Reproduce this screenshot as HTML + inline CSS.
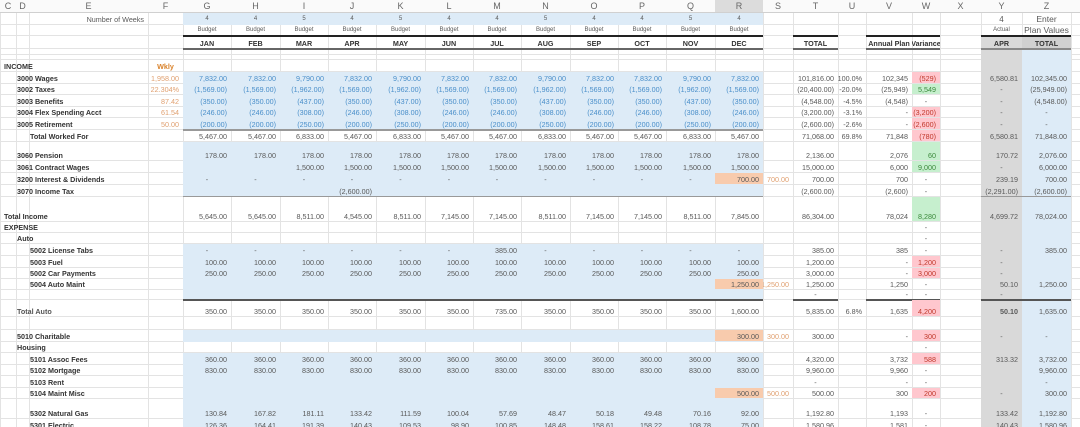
<!DOCTYPE html>
<html><head><meta charset="utf-8">
<style>
html,body{margin:0;padding:0;background:#fff;overflow:hidden;}
#sheet{position:relative;width:1080px;height:427px;overflow:hidden;font-family:"Liberation Sans",Arial,sans-serif;font-size:7.2px;color:#595959;}
#sheet div{position:absolute;box-sizing:border-box;white-space:nowrap;}
.t{display:flex;align-items:flex-end;padding:0 4px 1px 4px;line-height:9px;overflow:hidden;}
</style></head>
<body>
<div id="sheet"></div>
<script>
// ---- data ----
const colLetters=["C","D","E","F","G","H","I","J","K","L","M","N","O","P","Q","R","S","T","U","V","W","X","Y","Z",""];
const months=["JAN","FEB","MAR","APR","MAY","JUN","JUL","AUG","SEP","OCT","NOV","DEC"];
const weeks=[4,4,5,4,5,4,4,5,4,4,5,4];
const wages=["7,832.00","7,832.00","9,790.00","7,832.00","9,790.00","7,832.00","7,832.00","9,790.00","7,832.00","7,832.00","9,790.00","7,832.00"];
const taxes=["(1,569.00)","(1,569.00)","(1,962.00)","(1,569.00)","(1,962.00)","(1,569.00)","(1,569.00)","(1,962.00)","(1,569.00)","(1,569.00)","(1,962.00)","(1,569.00)"];
const benefits=["(350.00)","(350.00)","(437.00)","(350.00)","(437.00)","(350.00)","(350.00)","(437.00)","(350.00)","(350.00)","(437.00)","(350.00)"];
const flex=["(246.00)","(246.00)","(308.00)","(246.00)","(308.00)","(246.00)","(246.00)","(308.00)","(246.00)","(246.00)","(308.00)","(246.00)"];
const retire=["(200.00)","(200.00)","(250.00)","(200.00)","(250.00)","(200.00)","(200.00)","(250.00)","(200.00)","(200.00)","(250.00)","(200.00)"];
const worked=["5,467.00","5,467.00","6,833.00","5,467.00","6,833.00","5,467.00","5,467.00","6,833.00","5,467.00","5,467.00","6,833.00","5,467.00"];
const pension=["178.00","178.00","178.00","178.00","178.00","178.00","178.00","178.00","178.00","178.00","178.00","178.00"];
const contract=["","","1,500.00","1,500.00","1,500.00","1,500.00","1,500.00","1,500.00","1,500.00","1,500.00","1,500.00","1,500.00"];
const interest=["-","-","-","-","-","-","-","-","-","-","-","700.00"];
const incTax=["","","","(2,600.00)","","","","","","","",""];
const totIncome=["5,645.00","5,645.00","8,511.00","4,545.00","8,511.00","7,145.00","7,145.00","8,511.00","7,145.00","7,145.00","8,511.00","7,845.00"];
const license=["-","-","-","-","-","-","385.00","-","-","-","-","-"];
const fuel=["100.00","100.00","100.00","100.00","100.00","100.00","100.00","100.00","100.00","100.00","100.00","100.00"];
const car=["250.00","250.00","250.00","250.00","250.00","250.00","250.00","250.00","250.00","250.00","250.00","250.00"];
const autoMaint=["","","","","","","","","","","","1,250.00"];
const totAuto=["350.00","350.00","350.00","350.00","350.00","350.00","735.00","350.00","350.00","350.00","350.00","1,600.00"];
const charit=["","","","","","","","","","","","300.00"];
const assoc=["360.00","360.00","360.00","360.00","360.00","360.00","360.00","360.00","360.00","360.00","360.00","360.00"];
const mortgage=["830.00","830.00","830.00","830.00","830.00","830.00","830.00","830.00","830.00","830.00","830.00","830.00"];
const maint=["","","","","","","","","","","","500.00"];
const gas=["130.84","167.82","181.11","133.42","111.59","100.04","57.69","48.47","50.18","49.48","70.16","92.00"];
const elec=["126.36","164.41","191.39","140.43","109.53","98.90","100.85","148.48","158.61","158.22","108.78","75.00"];

// ---- geometry ----
const colX=[0,16,29,148,183];
for(let i=1;i<=12;i++)colX.push(Math.round(183+48.33*i));
colX.push(793,838,866,912,940,981,1022,1071,1080);
const C=l=>colLetters.indexOf(l);
const cx=l=>colX[C(l)], cw=l=>colX[C(l)+1]-colX[C(l)];

const R={hdr:[0,13],wk:[13,25],bud:[25,36],mon:[36,49],b1:[49,55],b2:[55,60],inc:[60,72],wag:[72,84],tax:[84,95],ben:[95,107],flx:[107,118],ret:[118,130],tw:[130,142],pen:[142,161],con:[161,173],int:[173,185],itx:[185,197],ti:[197,222],exp:[222,233],aut:[233,244],lic:[244,256],fue:[256,268],car:[268,279],am:[279,290],b3:[290,300],ta:[300,317],b4:[317,330],cha:[330,342],hou:[342,353],aso:[353,365],mor:[365,376],ren:[376,388],mm:[388,399],gas:[399,419],ele:[419,427]};

const S=document.getElementById('sheet');
function box(x,y,w,h,bg,name){
  const d=document.createElement('div');
  d.style.cssText=`left:${x}px;top:${y}px;width:${w}px;height:${h}px;background:${bg}`;
  
  
  S.appendChild(d);return d;
}
function txt(col,row,s,opt){
  opt=opt||{};
  const r=R[row];const x=opt.x!=null?opt.x:cx(col);const w=opt.w!=null?opt.w:cw(col);
  const d=document.createElement('div');
  d.className='t';
  d.style.left=x+'px';d.style.top=r[0]+'px';d.style.width=w+'px';d.style.height=(r[1]-r[0])+'px';
  d.style.justifyContent=opt.al||'flex-end';
  if(row=='ele'){d.style.alignItems='flex-start';d.style.paddingTop='2px';}
  if(opt.c)d.style.color=opt.c;
  if(opt.b)d.style.fontWeight='bold';
  if(opt.fs)d.style.fontSize=opt.fs+'px';
  d.textContent=s;
  
  
  S.appendChild(d);return d;
}
const BLUE='#ddebf7',ORG='#f8cbad',GREY='#d9d9d9',RED='#ffc7ce',GRN='#c6efce';
const TB='#4a8fca',TO='#e0a070',TR='#c0392b',TG='#3c8a3c';
const gx=cx('G'),gw=cx('S')-cx('G');

Object.values(R).forEach(r=>{if(r[1]<427)box(0,r[1]-1,1080,1,'#e3e3e3','row-gridline');});
colX.forEach(x=>{if(x<1080)box(x,0,1,427,'#e3e3e3','col-gridline');});

['wk','wag','tax','ben','flx','ret','pen','con','int','itx','lic','fue','car','am','b3','cha','aso','mor','ren','mm','gas','ele'].forEach(k=>{
  const r=R[k];box(gx,r[0],gw,r[1]-r[0],BLUE,'input-band');
});
box(cx('Y'),36,cw('Y'),427-36,GREY,'actual-column');
box(cx('Z'),49,cw('Z'),427-49,BLUE,'plan-column');
box(cx('Z'),36,cw('Z'),13,'#d0d0d0','plan-header');
box(0,0,1080,13,'#fafafa','column-header-row');
box(cx('R'),0,cw('R'),13,'#dcdcdc','selected-col-header');
box(cx('R'),12,cw('R'),1,'#217346','selected-col-underline');
box(0,12,1080,1,'#d0d0d0','header-border');
colLetters.forEach((l,i)=>{ if(!l)return;
  const d=document.createElement('div');d.className='t';
  d.style.cssText=`left:${colX[i]}px;top:0;width:${colX[i+1]-colX[i]}px;height:13px;justify-content:center;align-items:center;font-size:9px;color:#666;padding:0`;
  d.textContent=l;
  
  
  S.appendChild(d);
});
['int','am','cha','mm'].forEach(k=>{const r=R[k];box(cx('R'),r[0],cw('R'),r[1]-r[0]-1,ORG,'override-cell');});

function hline(x,y,w,c,h,name){box(x,y,w,h||2,c,name);}
[[gx,gw],[cx('T'),cw('T')],[cx('V'),cx('X')-cx('V')]].forEach(([x,w])=>{
  hline(x,35,w,'#222',2,'budget-rule');hline(x,48,w,'#666',2,'month-rule');
});
hline(cx('Y'),35,cx('Z')+cw('Z')-cx('Y'),'#222',2,'actual-rule');
hline(cx('Y'),48,cx('Z')+cw('Z')-cx('Y'),'#888',2,'actual-month-rule');
hline(gx,129,gw,'#999',2,'total-rule');
hline(gx,196,gw,'#999',1,'income-rule');
hline(cx('Y'),196,cx('Z')+cw('Z')-cx('Y'),'#999',1,'income-rule-y');
[[gx,gw],[cx('T'),cw('T')],[cx('V'),cx('X')-cx('V')],[cx('Y'),cx('Z')+cw('Z')-cx('Y')]].forEach(([x,w])=>hline(x,299,w,'#555',2,'auto-rule'));

weeks.forEach((v,i)=>txt(colLetters[4+i],'wk',String(v),{al:'center',fs:6,name:'weeks-'+months[i].toLowerCase()}));
txt('E','wk','Number of Weeks',{name:'weeks-label'});
months.forEach((m,i)=>txt(colLetters[4+i],'bud','Budget',{al:'center',fs:6,name:'budget-label'}));
months.forEach((m,i)=>txt(colLetters[4+i],'mon',m,{al:'center',b:1,c:'#333',name:'month-'+m.toLowerCase()}));
txt('T','mon','TOTAL',{al:'center',b:1,c:'#333',name:'total-header'});
txt('V','mon','Annual Plan',{al:'center',b:1,c:'#333',name:'annual-plan-header'});
txt('W','mon','Variance',{al:'center',b:1,c:'#333',name:'variance-header'});
txt('Y','wk','4',{al:'center',fs:8,name:'actual-weeks'});
txt('Z','wk','Enter',{al:'center',fs:8.5,name:'enter-label'});
txt('Y','bud','Actual',{al:'center',fs:6,name:'actual-label'});
txt('Z','bud','Plan Values',{al:'center',fs:8.5,name:'plan-values-label'});
txt('Y','mon','APR',{al:'center',b:1,c:'#333',name:'actual-month'});
txt('Z','mon','TOTAL',{al:'center',b:1,c:'#333',name:'plan-total-header'});

const L=(row,s,lvl,opt)=>txt('C',row,s,Object.assign({x:[3,16,29][lvl]-3,w:148,al:'flex-start',b:1,c:'#333',name:'label-'+row},opt||{}));
L('inc','INCOME',0);L('wag','3000 Wages',1);L('tax','3002 Taxes',1);L('ben','3003 Benefits',1);L('flx','3004 Flex Spending Acct',1);L('ret','3005 Retirement',1);L('tw','Total Worked For',2);
L('pen','3060 Pension',1);L('con','3061 Contract Wages',1);L('int','3200 Interest & Dividends',1);L('itx','3070 Income Tax',1);
L('ti','Total Income',0);L('exp','EXPENSE',0);L('aut','Auto',1);L('lic','5002 License Tabs',2);L('fue','5003 Fuel',2);L('car','5002 Car Payments',2);L('am','5004 Auto Maint',2);
L('ta','Total Auto',1,{c:'#555'});L('cha','5010 Charitable',1);L('hou','Housing',1);L('aso','5101 Assoc Fees',2);L('mor','5102 Mortgage',2);L('ren','5103 Rent',2);L('mm','5104 Maint Misc',2);L('gas','5302 Natural Gas',2);L('ele','5301 Electric',2);
txt('F','inc','Wkly',{al:'center',b:1,c:'#d9822b',name:'weekly-header'});
[['wag','1,958.00'],['tax','22.304%'],['ben','87.42'],['flx','61.54'],['ret','50.00']].forEach(([r,s])=>txt('F',r,s,{c:TO,name:'weekly-'+r}));

function M(row,arr,c){arr.forEach((v,i)=>{if(v!=='')txt(colLetters[4+i],row,v,{c:c,al:v=='-'?'center':'flex-end',name:row+'-'+months[i].toLowerCase()});});}
M('wag',wages,TB);M('tax',taxes,TB);M('ben',benefits,TB);M('flx',flex,TB);M('ret',retire,TB);M('tw',worked);
M('pen',pension);M('con',contract);M('int',interest);M('itx',incTax);M('ti',totIncome);
M('lic',license);M('fue',fuel);M('car',car);M('am',autoMaint);M('ta',totAuto);M('cha',charit);M('aso',assoc);M('mor',mortgage);M('mm',maint);M('gas',gas);M('ele',elec);

const right=[
['wag','','101,816.00','100.0%','102,345','(529)','r','6,580.81','102,345.00'],
['tax','','(20,400.00)','-20.0%','(25,949)','5,549','g','-','(25,949.00)'],
['ben','','(4,548.00)','-4.5%','(4,548)','-','','-','(4,548.00)'],
['flx','','(3,200.00)','-3.1%','-','(3,200)','r','-','-'],
['ret','','(2,600.00)','-2.6%','-','(2,600)','r','-','-'],
['tw','','71,068.00','69.8%','71,848','(780)','r','6,580.81','71,848.00'],
['pen','','2,136.00','','2,076','60','g','170.72','2,076.00'],
['con','','15,000.00','','6,000','9,000','g','-','6,000.00'],
['int','700.00','700.00','','700','-','','239.19','700.00'],
['itx','','(2,600.00)','','(2,600)','-','','(2,291.00)','(2,600.00)'],
['ti','','86,304.00','','78,024','8,280','g','4,699.72','78,024.00'],
['exp','','','','','-','','',''],
['aut','','','','','-','','',''],
['lic','','385.00','','385','-','','-','385.00'],
['fue','','1,200.00','','-','1,200','r','-',''],
['car','','3,000.00','','-','3,000','r','-',''],
['am','1,250.00','1,250.00','','1,250','-','','50.10','1,250.00'],
['b3','','-','','-','-','','-',''],
['ta','','5,835.00','6.8%','1,635','4,200','r','50.10','1,635.00'],
['cha','300.00','300.00','','-','300','r','-','-'],
['hou','','','','','-','','',''],
['aso','','4,320.00','','3,732','588','r','313.32','3,732.00'],
['mor','','9,960.00','','9,960','-','','','9,960.00'],
['ren','','-','','-','-','','','-'],
['mm','500.00','500.00','','300','200','r','-','300.00'],
['gas','','1,192.80','','1,193','-','','133.42','1,192.80'],
['ele','','1,580.96','','1,581','-','','140.43','1,580.96']];
right.forEach(([r,s,t,u,v,w,k,y,z])=>{
  if(s)txt('S',r,s,{c:TO,name:'override-'+r});
  if(t)txt('T',r,t,{al:t=='-'?'center':'flex-end',name:'total-'+r});
  if(u)txt('U',r,u,{name:'pct-'+r});
  if(v)txt('V',r,v,{name:'plan-'+r});
  if(w){ if(k){const rr=R[r];box(cx('W'),rr[0],cw('W'),rr[1]-rr[0]-1,k=='r'?RED:GRN,'variance-fill');}
    txt('W',r,w,{c:k=='r'?TR:k=='g'?TG:null,al:w=='-'?'center':'flex-end',name:'variance-'+r});}
  if(y)txt('Y',r,y,{al:y=='-'?'center':'flex-end',b:r=='ta',name:'actual-'+r});
  if(z)txt('Z',r,z,{al:z=='-'?'center':'flex-end',name:'plan-value-'+r});
});
</script>
</body></html>
